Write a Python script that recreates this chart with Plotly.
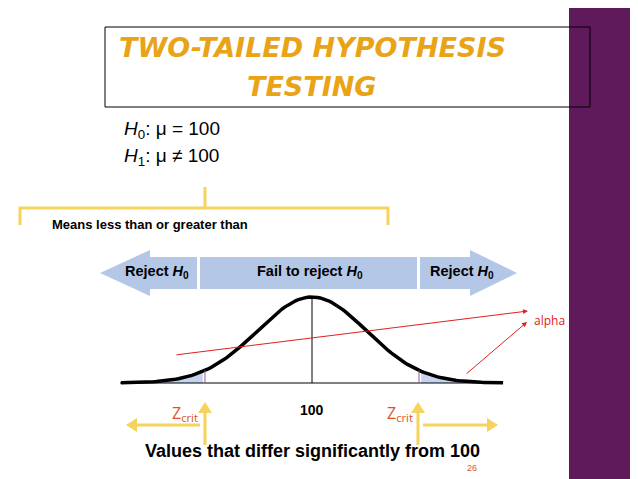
import numpy as np
import plotly.graph_objects as go

# Data
mean_value = 100
z_crit = 1.96
z_grid = np.linspace(-3.5, 3.5, 141)
pdf_vals = np.exp(-z_grid**2 / 2) / np.sqrt(2 * np.pi)
title_lines = ["TWO-TAILED HYPOTHESIS", "TESTING"]
region_labels = ["Reject <i>H</i><sub>0</sub>", "Fail to reject <i>H</i><sub>0</sub>", "Reject <i>H</i><sub>0</sub>"]

# pixel mapping
cx, sx, base, hpx = 312, 54.6, 383, 86 / pdf_vals.max()
X = cx + z_grid * sx
Y = base - pdf_vals * hpx

fig = go.Figure()
shapes = [dict(type="rect", x0=569, x1=640, y0=0, y1=480, fillcolor="#5e1a5a", line_width=0, layer="below")]
shapes.append(dict(type="rect", x0=105, x1=590, y0=27, y1=107, line=dict(color="black", width=1)))
ac = "#b4c7e7"
shapes.append(dict(type="path", path="M100,273 L150,250 L150,257 L197,257 L197,289 L150,289 L150,296 Z", fillcolor=ac, line_width=0))
shapes.append(dict(type="rect", x0=200, x1=417, y0=257, y1=289, fillcolor=ac, line_width=0))
shapes.append(dict(type="path", path="M517,273 L470,250 L470,257 L420,257 L420,289 L470,289 L470,296 Z", fillcolor=ac, line_width=0))
yc = "#f5d35c"
for p in ["M20,225 L20,208 L388,208 L388,225", "M205,208 L205,187"]:
    shapes.append(dict(type="path", path=p, line=dict(color=yc, width=3)))
shapes.append(dict(type="path", path="M205,445 L205,410 M418,445 L418,410 M200,425 L132,425 M423,425 L492,425", line=dict(color=yc, width=3)))
for p in ["M205,402 L198,413 L212,413 Z", "M418,402 L411,413 L425,413 Z", "M126,425 L137,418 L137,432 Z", "M498,425 L487,418 L487,432 Z"]:
    shapes.append(dict(type="path", path=p, fillcolor=yc, line_width=0))
shapes.append(dict(type="line", x0=120, x1=502, y0=base, y1=base, line=dict(color="black", width=1)))
shapes.append(dict(type="line", x0=cx, x1=cx, y0=Y.min(), y1=base, line=dict(color="black", width=1)))
for zc in (-z_crit, z_crit):
    xx = cx + zc * sx
    yy = base - np.exp(-zc**2 / 2) / np.sqrt(2 * np.pi) * hpx
    shapes.append(dict(type="line", x0=xx, x1=xx, y0=yy, y1=base, line=dict(color="#8e5ba0", width=1)))
fig.update_layout(shapes=shapes)

for mask in (z_grid <= -z_crit, z_grid >= z_crit):
    xs = X[mask]; ys = Y[mask]
    fig.add_trace(go.Scatter(x=np.concatenate([xs, xs[::-1]]), y=np.concatenate([ys, np.full(len(xs), base)]),
                             fill="toself", fillcolor="#c5d3ee", line_width=0, mode="lines", hoverinfo="skip"))
fig.add_trace(go.Scatter(x=X, y=Y, mode="lines", line=dict(color="black", width=3.5), hoverinfo="skip"))

ann = []
def t(x, y, s, size=14, color="black", anchor="center", bold=False, italic=False, font="Liberation Sans"):
    if bold: s = f"<b>{s}</b>"
    if italic: s = f"<i>{s}</i>"
    ann.append(dict(x=x, y=y, text=s, showarrow=False, xanchor=anchor, yanchor="middle",
                    font=dict(size=size, color=color, family=font)))
t(312, 47, title_lines[0], 27, "#e8a317", bold=True, italic=True, font="DejaVu Sans")
t(312, 86, title_lines[1], 27, "#e8a317", bold=True, italic=True, font="DejaVu Sans")
t(122, 130, "<i>H</i><sub>0</sub>: μ = 100", 19, anchor="left")
t(122, 157, "<i>H</i><sub>1</sub>: μ ≠ 100", 19, anchor="left")
t(50, 224, "<b>Means less than or greater than</b>", 13, anchor="left")
t(157, 272, "<b>" + region_labels[0] + "</b>", 14.5)
t(310, 272, "<b>" + region_labels[1] + "</b>", 14.5)
t(462, 272, "<b>" + region_labels[2] + "</b>", 14.5)
t(312, 410, f"<b>{mean_value}</b>", 14)
t(185, 413, "Z<sub>crit</sub>", 16, "#d9541e", font="Open Sans")
t(400, 413, "Z<sub>crit</sub>", 16, "#d9541e", font="Open Sans")
t(312, 451, "<b>Values that differ significantly from 100</b>", 18)
t(472, 468, "26", 9, "#d9541e")
t(532, 320, "alpha", 12, "#e02020", anchor="left", font="Open Sans")
for (x0, y0, x1, y1) in [(175, 355, 528, 311), (465, 375, 527, 322)]:
    ann.append(dict(x=x1, y=y1, ax=x0, ay=y0, xref="x", yref="y", axref="x", ayref="y", text="",
                    showarrow=True, arrowhead=2, arrowsize=1, arrowwidth=1, arrowcolor="#e02020"))
fig.update_layout(annotations=ann, width=630, height=471, margin=dict(l=0, r=0, t=0, b=0),
                  plot_bgcolor="white", paper_bgcolor="white", showlegend=False,
                  xaxis=dict(range=[8, 638], visible=False, fixedrange=True),
                  yaxis=dict(range=[479, 8], visible=False, fixedrange=True))
fig.write_html("out.html")
